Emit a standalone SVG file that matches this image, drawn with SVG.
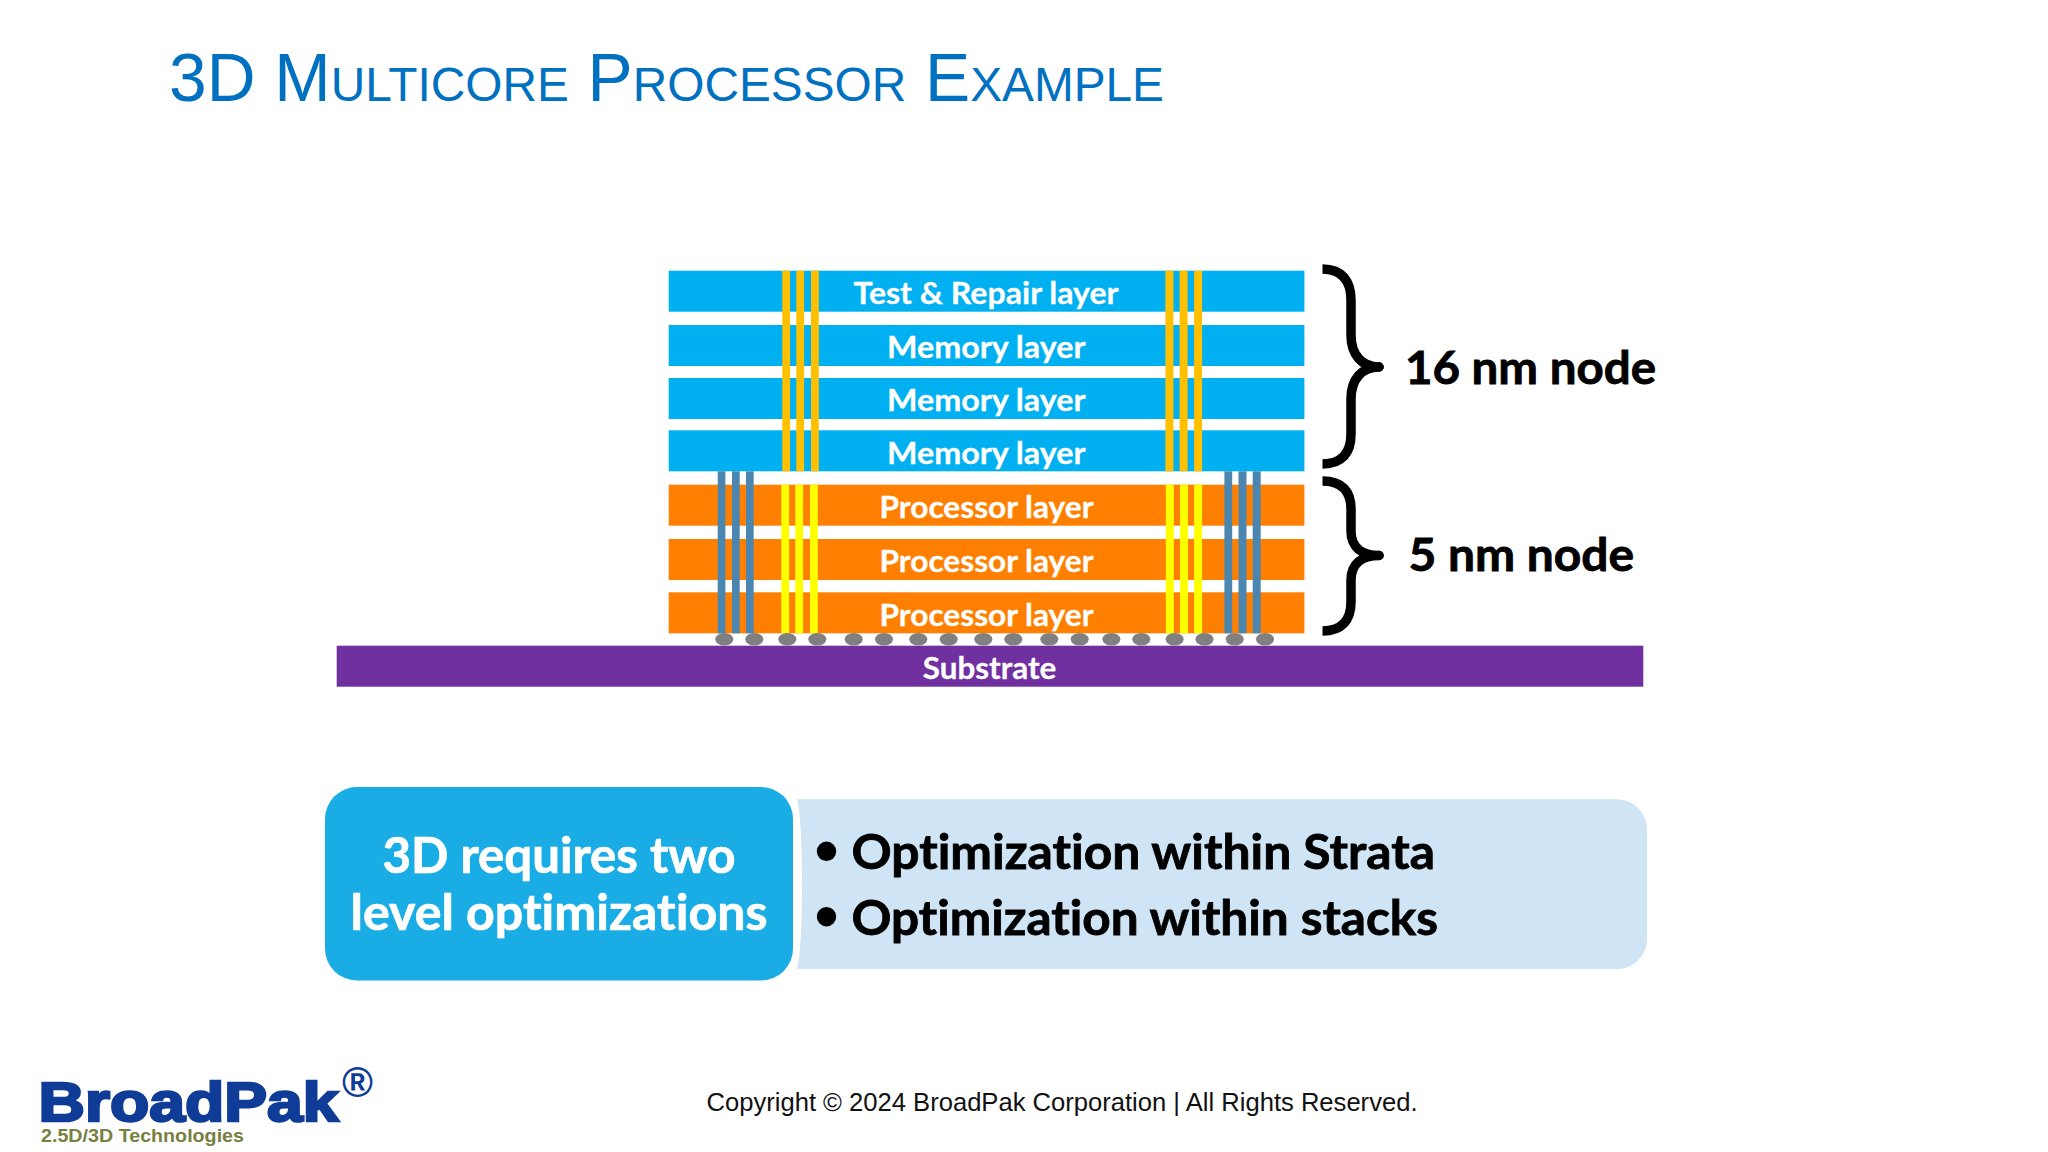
<svg xmlns="http://www.w3.org/2000/svg" width="2048" height="1152" viewBox="0 0 2048 1152">
<style>
text{font-variant-ligatures:none}
.bl{fill:#00B0F0}.or{fill:#FF7F00}.go{fill:#FFC000}.ye{fill:#FFFF00}.st{fill:#4A86AF}.bump{fill:#808080}
.lt{font-family:"Lato","Open Sans",sans-serif;font-weight:700;font-size:31px;fill:#fff;stroke:#fff;stroke-width:.3}
.hd{font-size:49px;stroke-width:.7}
.bk{font-family:"Lato","Open Sans",sans-serif;font-weight:700;fill:#000;stroke:#000;stroke-width:.8}
.brace{fill:none;stroke:#000;stroke-width:9.500;stroke-linecap:butt;stroke-linejoin:round}
.ttl{font-family:"Liberation Sans",Arial,sans-serif;fill:#0070C0;font-size:68px}
.sm{font-size:48px}
</style>
<rect width="2048" height="1152" fill="#fff"/>
<g id="title"><text class="ttl" x="169" y="101" textLength="995" lengthAdjust="spacingAndGlyphs">3D M<tspan class="sm">ULTICORE</tspan> P<tspan class="sm">ROCESSOR</tspan> E<tspan class="sm">XAMPLE</tspan></text></g>

<g id="layer-test"><rect class="bl" x="668.700" y="270.700" width="635.700" height="41"/><text class="lt" x="853.500" y="304" textLength="265" lengthAdjust="spacingAndGlyphs">Test &amp; Repair layer</text></g>
<g id="layer-memory-1"><rect class="bl" x="668.700" y="325" width="635.700" height="41"/><text class="lt" x="887" y="358" textLength="198.500" lengthAdjust="spacingAndGlyphs">Memory layer</text></g>
<g id="layer-memory-2"><rect class="bl" x="668.700" y="378" width="635.700" height="41"/><text class="lt" x="887" y="411" textLength="198.500" lengthAdjust="spacingAndGlyphs">Memory layer</text></g>
<g id="layer-memory-3"><rect class="bl" x="668.700" y="430.300" width="635.700" height="41"/><text class="lt" x="887" y="464" textLength="198.500" lengthAdjust="spacingAndGlyphs">Memory layer</text></g>
<g id="layer-processor-1"><rect class="or" x="668.700" y="484.700" width="635.700" height="41"/><text class="lt" x="879.500" y="518" textLength="214" lengthAdjust="spacingAndGlyphs">Processor layer</text></g>
<g id="layer-processor-2"><rect class="or" x="668.700" y="539" width="635.700" height="41"/><text class="lt" x="879.500" y="572" textLength="214" lengthAdjust="spacingAndGlyphs">Processor layer</text></g>
<g id="layer-processor-3"><rect class="or" x="668.700" y="592.300" width="635.700" height="41"/><text class="lt" x="879.500" y="625.500" textLength="214" lengthAdjust="spacingAndGlyphs">Processor layer</text></g>
<g id="substrate"><rect x="336.700" y="645.700" width="1306.600" height="41" fill="#7030A0"/><text class="lt" x="922.800" y="679" textLength="133.500" lengthAdjust="spacingAndGlyphs">Substrate</text></g>

<g id="connectors">
<g class="go"><rect x="782.300" y="270.700" width="7.800" height="200.600"/><rect x="796.300" y="270.700" width="7.800" height="200.600"/><rect x="811" y="270.700" width="7.800" height="200.600"/><rect x="1165.400" y="270.700" width="8" height="200.600"/><rect x="1179.600" y="270.700" width="8" height="200.600"/><rect x="1194.100" y="270.700" width="8" height="200.600"/></g>
<g class="ye"><rect x="781.300" y="484.700" width="7.800" height="148.600"/><rect x="795.300" y="484.700" width="7.800" height="148.600"/><rect x="810" y="484.700" width="7.800" height="148.600"/><rect x="1165.800" y="484.700" width="8" height="148.600"/><rect x="1180" y="484.700" width="8" height="148.600"/><rect x="1194.100" y="484.700" width="8" height="148.600"/></g>
<g class="st"><rect x="717.700" y="471.300" width="7.700" height="162"/><rect x="732" y="471.300" width="7.700" height="162"/><rect x="746" y="471.300" width="7.700" height="162"/><rect x="1224.400" y="471.300" width="7.800" height="162"/><rect x="1238.500" y="471.300" width="8" height="162"/><rect x="1252.700" y="471.300" width="8" height="162"/></g>
</g>

<g id="bumps" class="bump">
<ellipse cx="724.300" cy="639.300" rx="9" ry="6.300"/><ellipse cx="754.300" cy="639.300" rx="9" ry="6.300"/><ellipse cx="787.300" cy="639.300" rx="9" ry="6.300"/><ellipse cx="817.300" cy="639.300" rx="9" ry="6.300"/><ellipse cx="853.700" cy="639.300" rx="9" ry="6.300"/><ellipse cx="884" cy="639.300" rx="9" ry="6.300"/><ellipse cx="918.300" cy="639.300" rx="9" ry="6.300"/><ellipse cx="948.700" cy="639.300" rx="9" ry="6.300"/><ellipse cx="983.300" cy="639.300" rx="9" ry="6.300"/><ellipse cx="1013.300" cy="639.300" rx="9" ry="6.300"/><ellipse cx="1049.300" cy="639.300" rx="9" ry="6.300"/><ellipse cx="1079.700" cy="639.300" rx="9" ry="6.300"/><ellipse cx="1111.400" cy="639.300" rx="9" ry="6.300"/><ellipse cx="1141.300" cy="639.300" rx="9" ry="6.300"/><ellipse cx="1174.600" cy="639.300" rx="9" ry="6.300"/><ellipse cx="1204.500" cy="639.300" rx="9" ry="6.300"/><ellipse cx="1234.700" cy="639.300" rx="9" ry="6.300"/><ellipse cx="1265" cy="639.300" rx="9" ry="6.300"/>
</g>

<g id="brace-16nm"><path class="brace" d="M1322.500 269C1342 269 1351 281 1351 300V335C1351 355 1362 367 1379 367C1362 367 1351 379 1351 399V434C1351 453 1342 464 1322.500 464"/><circle cx="1379" cy="367" r="4.750"/><text class="bk" x="1405" y="383.500" font-size="45" textLength="251" lengthAdjust="spacingAndGlyphs">16 nm node</text></g>
<g id="brace-5nm"><path class="brace" d="M1322.500 481C1342 481 1351 491 1351 509V531C1351 547 1362 555.500 1379 555.500C1362 555.500 1351 564 1351 580V602C1351 620 1342 631 1322.500 631"/><circle cx="1379" cy="555.500" r="4.750"/><text class="bk" x="1408.500" y="571" font-size="45" textLength="225.500" lengthAdjust="spacingAndGlyphs">5 nm node</text></g>

<g id="info-panel"><path d="M797 799.300H1617a30 30 0 0 1 30 30V939a30 30 0 0 1-30 30H797Q802 950 802 884T797 799.300Z" fill="#CFE4F4"/>
<circle cx="826.500" cy="851.300" r="9.700"/><circle cx="826.500" cy="916.700" r="9.700"/>
<text class="bk" x="851.500" y="868.500" font-size="47" textLength="583.500" lengthAdjust="spacingAndGlyphs">Optimization within Strata</text>
<text class="bk" x="851.500" y="934.500" font-size="47" textLength="586.500" lengthAdjust="spacingAndGlyphs">Optimization within stacks</text></g>
<g id="info-head"><rect x="325" y="787" width="468" height="193.500" rx="32" fill="#1AACE5"/>
<text class="lt hd" x="382.500" y="872.500" textLength="353" lengthAdjust="spacingAndGlyphs">3D requires two</text>
<text class="lt hd" x="350.500" y="930" textLength="417" lengthAdjust="spacingAndGlyphs">level optimizations</text></g>

<g id="logo"><text x="38.500" y="1121" font-family="Liberation Sans,Arial,sans-serif" font-weight="700" font-size="56" fill="#0F3C96" stroke="#0F3C96" stroke-width="2.500" textLength="300" lengthAdjust="spacingAndGlyphs">BroadPak</text>
<text x="342" y="1097" font-family="Liberation Sans,Arial,sans-serif" font-weight="700" font-size="42" fill="#0F3C96">®</text>
<text x="41" y="1142" font-family="Liberation Sans,Arial,sans-serif" font-weight="700" font-size="18" fill="#77803F" textLength="203" lengthAdjust="spacingAndGlyphs">2.5D/3D Technologies</text></g>
<g id="copyright"><text x="706.500" y="1111" font-family="Liberation Sans,Arial,sans-serif" font-size="26.700" fill="#111" textLength="711" lengthAdjust="spacingAndGlyphs">Copyright © 2024 BroadPak Corporation | All Rights Reserved.</text></g>
</svg>
